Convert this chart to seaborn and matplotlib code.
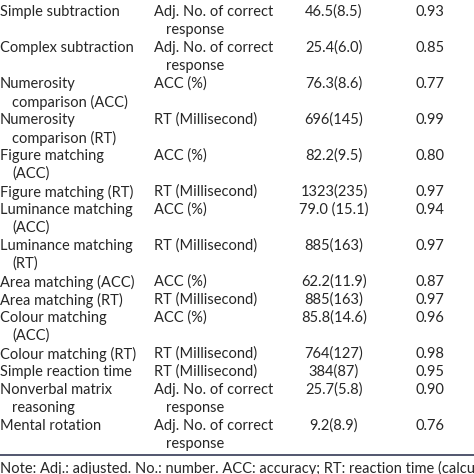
import matplotlib
matplotlib.use("Agg")
import matplotlib.pyplot as plt
import seaborn as sns

# data of the table
tests = ["Simple subtraction", "Complex subtraction", "Numerosity\ncomparison (ACC)",
         "Numerosity\ncomparison (RT)", "Figure matching\n(ACC)", "Figure matching (RT)",
         "Luminance matching\n(ACC)", "Luminance matching\n(RT)", "Area matching (ACC)",
         "Area matching (RT)", "Colour matching\n(ACC)", "Colour matching (RT)",
         "Simple reaction time", "Nonverbal matrix\nreasoning", "Mental rotation"]
measures = ["Adj. No. of correct\nresponse", "Adj. No. of correct\nresponse", "ACC (%)",
            "RT (Millisecond)", "ACC (%)", "RT (Millisecond)", "ACC (%)", "RT (Millisecond)",
            "ACC (%)", "RT (Millisecond)", "ACC (%)", "RT (Millisecond)", "RT (Millisecond)",
            "Adj. No. of correct\nresponse", "Adj. No. of correct\nresponse"]
mean_sd = ["46.5(8.5)", "25.4(6.0)", "76.3(8.6)", "696(145)", "82.2(9.5)", "1323(235)",
           "79.0 (15.1)", "885(163)", "62.2(11.9)", "885(163)", "85.8(14.6)", "764(127)",
           "384(87)", "25.7(5.8)", "9.2(8.9)"]
reliability = ["0.93", "0.85", "0.77", "0.99", "0.80", "0.97", "0.94", "0.97", "0.87",
               "0.97", "0.96", "0.98", "0.95", "0.90", "0.76"]
note = "Note: Adj.: adjusted. No.: number. ACC: accuracy; RT: reaction time (calcu-"

sns.set_style("white")
plt.rcParams["font.family"] = ["Lato", "DejaVu Sans"]

fig = plt.figure(figsize=(4.74, 4.74), dpi=100)
ax = fig.add_axes([0, 0, 1, 1])
ax.set_xlim(0, 474)
ax.set_ylim(474, 0)
ax.axis("off")

fs = 10.5
pitch = 18
y = 12
for t, m, v, r in zip(tests, measures, mean_sd, reliability):
    tl = t.split("\n")
    ml = m.split("\n")
    for i, s in enumerate(tl):
        ax.text(0 if i == 0 else 12, y + i * pitch, s, fontsize=fs, va="center", ha="left")
    for i, s in enumerate(ml):
        ax.text(154 if i == 0 else 166, y + i * pitch, s, fontsize=fs, va="center", ha="left")
    ax.text(334, y, v, fontsize=fs, va="center", ha="center")
    ax.text(430, y, r, fontsize=fs, va="center", ha="center")
    y += pitch * max(len(tl), len(ml))

ax.axhline(455, color="#333a55", lw=1.2)
# the note is cut at the right edge in the source too
ax.text(0, 468, note, fontsize=fs, va="center", ha="left")

fig.savefig("out.png", dpi=100)
